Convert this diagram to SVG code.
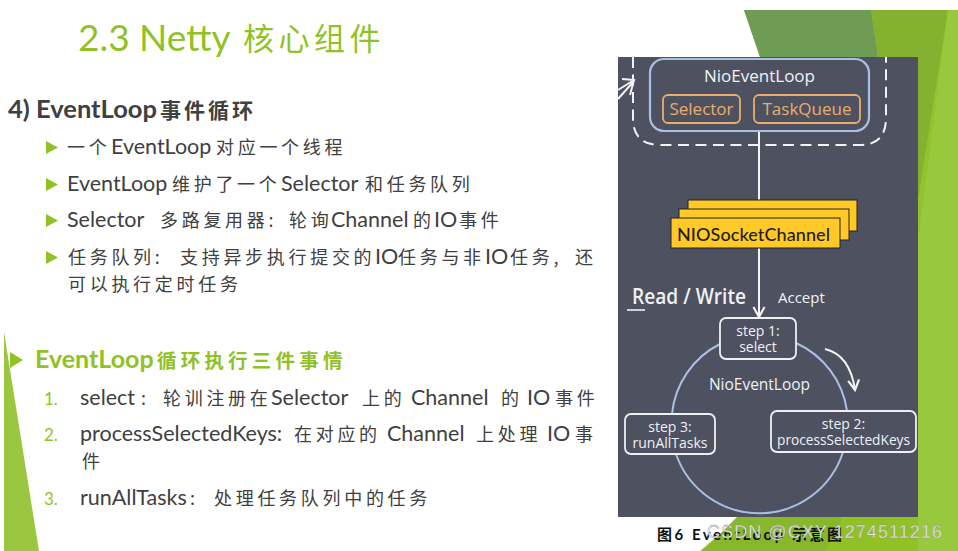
<svg xmlns="http://www.w3.org/2000/svg" width="958" height="551" viewBox="0 0 958 551">
<style>
text{font-family:"Lato","Noto Sans CJK SC",sans-serif}
.body{font-size:21.5px;fill:#404040}
.c{font-size:18px;letter-spacing:3.7px;font-family:"Noto Sans CJK SC",sans-serif}
.num{font-size:17px;fill:#90c226}
.bullet{fill:#90c226}
.light{fill:#eef1f6;text-anchor:middle;font-family:"Open Sans",sans-serif}
.box{fill:#4e5260;stroke:#eef0f2;stroke-width:1.8}
.inner{fill:#4e5260;stroke:#e8ad6a;stroke-width:1.8}
.sel{font-size:17px;fill:#e8ad6a;text-anchor:middle;font-family:"Open Sans",sans-serif}
.chan{fill:#ffca28;stroke:#222;stroke-width:1}
.wire{fill:none;stroke:#f2f3f5;stroke-width:2}
.step{font-size:14px}
</style>
<defs>
<marker id="head" viewBox="0 0 14 14" refX="12" refY="7" markerWidth="14" markerHeight="14" markerUnits="userSpaceOnUse" orient="auto">
<path d="M2 1.500 L12 7 L2 12.500" fill="none" stroke="#f2f3f5" stroke-width="2.200"/>
</marker>
</defs>
<rect width="958" height="551" fill="#fff"/>
<g id="background">
<polygon points="744,10 958,10 958,551 700,551 760,500 918,500 918,57 760,57" fill="#93c22e"/>
<polygon points="744,10 871,10 878,57 760,57" fill="#6f9c55"/>
<polygon points="871,10 948,10 918,200 918,57 878,57" fill="#85b22e"/>
<polygon points="948,10 958,10 958,551 918,551 918,240" fill="#98c93c"/>
<polygon points="737,517 918,517 918,551 703,551" fill="#87b82b"/>
<polygon points="843,517 918,517 918,551 825,551" fill="#90c226"/>
<polygon points="4,332 39,551 4,551" fill="#9ac73f"/>
</g>
<g id="title">
<text x="78" y="51" font-size="37" fill="#90c226">2.3 Netty<tspan x="243" y="50" font-size="31" letter-spacing="4.500" font-family="Noto Sans CJK SC, sans-serif">核心组件</tspan></text>
</g>
<g id="section-1">
<text x="8" y="118" font-size="25.500" font-weight="700" fill="#404040">4) EventLoop<tspan x="160" font-size="21" font-weight="700" letter-spacing="3" font-family="Noto Sans CJK SC, sans-serif">事件循环</tspan></text>
<polygon class="bullet" points="46,141 58,147.500 46,154"/>
<text class="body" x="67" y="154"><tspan class="c">一个</tspan><tspan x="111">EventLoop</tspan><tspan class="c" x="216">对应一个线程</tspan></text>
<polygon class="bullet" points="46,178 58,184.500 46,191"/>
<text class="body" x="67" y="191">EventLoop<tspan class="c" x="172">维护了一个</tspan><tspan x="281">Selector</tspan><tspan class="c" x="365">和任务队列</tspan></text>
<polygon class="bullet" points="46,214 58,220.500 46,227"/>
<text class="body" x="67" y="227">Selector<tspan class="c" x="160">多路复用器:</tspan><tspan class="c" x="289">轮询</tspan><tspan x="331">Channel</tspan><tspan class="c" x="413">的</tspan><tspan x="434">IO</tspan><tspan class="c" x="459">事件</tspan></text>
<polygon class="bullet" points="46,251 58,257.500 46,264"/>
<text class="body" x="68" y="264"><tspan class="c">任务队列:</tspan><tspan class="c" x="180">支持异步执行提交的</tspan><tspan x="375">IO</tspan><tspan class="c" x="398">任务与非</tspan><tspan x="485">IO</tspan><tspan class="c" x="510">任务,</tspan><tspan class="c" x="575">还</tspan></text>
<text class="body" x="68" y="291"><tspan class="c">可以执行定时任务</tspan></text>
</g>
<g id="section-2">
<polygon class="bullet" points="10,352 23,360 10,368"/>
<text x="35" y="368" font-size="25" font-weight="700" fill="#90c226">EventLoop<tspan x="157" font-size="19.500" font-weight="700" letter-spacing="4.200" font-family="Noto Sans CJK SC, sans-serif">循环执行三件事情</tspan></text>
<text class="num" x="44" y="405">1.</text>
<text class="body" x="80" y="405">select<tspan class="c" x="141">:</tspan><tspan class="c" x="163">轮训注册在</tspan><tspan x="271">Selector</tspan><tspan class="c" x="362">上的</tspan><tspan x="411">Channel</tspan><tspan class="c" x="501">的</tspan><tspan x="527">IO</tspan><tspan class="c" x="555">事件</tspan></text>
<text class="num" x="44" y="441">2.</text>
<text class="body" x="80" y="441">processSelectedKeys:<tspan class="c" x="294">在对应的</tspan><tspan x="387">Channel</tspan><tspan class="c" x="476">上处理</tspan><tspan x="547">IO</tspan><tspan class="c" x="575">事</tspan></text>
<text class="body" x="82" y="468"><tspan class="c">件</tspan></text>
<text class="num" x="44" y="505">3.</text>
<text class="body" x="80" y="505">runAllTasks<tspan class="c" x="190">:</tspan><tspan class="c" x="214">处理任务队列中的任务</tspan></text>
</g>
<rect id="panel" x="618" y="57" width="300" height="460" fill="#4e5260"/>
<g id="connectors">
<path class="wire" d="M633 57 V118 Q633 145 660 145 H860 Q886 145 886 118 V57" stroke-dasharray="11 6.500"/>
<path class="wire" d="M759 131 V200"/>
<path class="wire" d="M759 248 V317" marker-end="url(#head)"/>
<path class="wire" d="M618 90 L634 80 M618 99 L634 81 M622 79 L634 80 L630 95" stroke-width="2.500"/>
<path d="M720 344 A88 88 0 0 0 672 414 M676 454 A88 88 0 0 0 843 452 M847 411 A88 88 0 0 0 796 343" fill="none" stroke="#a9c0e6" stroke-width="2"/>
<path class="wire" d="M825 349 Q850 355 855 390" marker-end="url(#head)"/>
<path d="M627 310 H645" stroke="#f2f3f5" stroke-width="1.600"/>
</g>
<g id="node-nioeventloop-top">
<rect x="650" y="59" width="219" height="72" rx="14" fill="#4e5260" stroke="#a9c0e6" stroke-width="2.200"/>
<text class="light" x="759.500" y="82" font-size="17">NioEventLoop</text>
</g>
<g id="node-selector">
<rect class="inner" x="663" y="95" width="77" height="28" rx="5"/>
<text class="sel" x="701.500" y="115">Selector</text>
</g>
<g id="node-taskqueue">
<rect class="inner" x="754" y="95" width="106" height="28" rx="5"/>
<text class="sel" x="807" y="115">TaskQueue</text>
</g>
<g id="node-niosocketchannel">
<rect class="chan" x="688" y="200" width="169" height="31"/>
<rect class="chan" x="679" y="209" width="170" height="31"/>
<rect class="chan" x="671" y="218" width="169" height="30"/>
<text x="677" y="241" font-size="18" font-weight="500" fill="#222" textLength="153" lengthAdjust="spacing">NIOSocketChannel</text>
</g>
<g id="labels">
<text x="632" y="304" font-size="21" font-weight="600" fill="#eef1f6" style="font-family:'Open Sans',sans-serif" textLength="114" lengthAdjust="spacingAndGlyphs">Read / Write</text>
<text x="778" y="303" font-size="15" fill="#eef1f6" style="font-family:'Open Sans',sans-serif">Accept</text>
<text class="light" x="759.500" y="390" font-size="15.500">NioEventLoop</text>
</g>
<g id="node-step1">
<rect class="box" x="720" y="318" width="76" height="41" rx="6"/>
<text class="light step" x="758" y="336">step 1:</text>
<text class="light step" x="758" y="352">select</text>
</g>
<g id="node-step2">
<rect class="box" x="771" y="411" width="145" height="41" rx="6"/>
<text class="light step" x="843.500" y="429">step 2:</text>
<text class="light step" x="843.500" y="445" textLength="133" lengthAdjust="spacingAndGlyphs">processSelectedKeys</text>
</g>
<g id="node-step3">
<rect class="box" x="625" y="414" width="90" height="40" rx="6"/>
<text class="light step" x="670" y="432">step 3:</text>
<text class="light step" x="670" y="448">runAllTasks</text>
</g>
<g id="caption">
<text x="657" y="540" font-size="15" font-weight="700" fill="#111" textLength="185" lengthAdjust="spacing">图6 EventLoop 示意图</text>
<text x="707" y="538" font-size="18" fill="#e6e6e6" stroke="#888" stroke-width="0.300" style="font-family:'Liberation Sans',sans-serif" textLength="235" lengthAdjust="spacing">CSDN @CXY 1274511216</text>
</g>
</svg>
